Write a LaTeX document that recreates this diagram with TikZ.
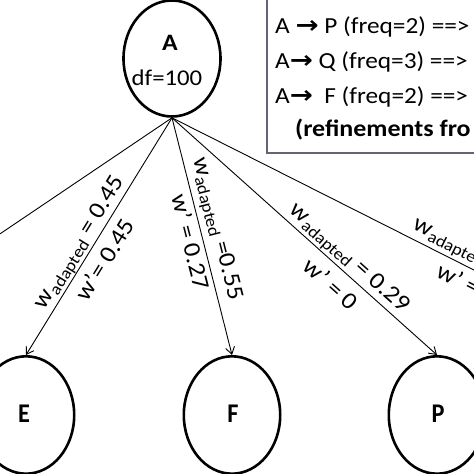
\documentclass[tikz,border=0pt]{standalone}
\usepackage{fontspec}
\setmainfont{Carlito}[FakeStretch=1.1]
\newfontfamily\plainfont{Carlito}
\newfontfamily\arrowfont{DejaVu Sans}
\usetikzlibrary{shapes.geometric,arrows.meta}
\definecolor{boxgray}{RGB}{100,100,115}
\newcommand{\rarrow}{\scalebox{1.2}[1.05]{\arrowfont\bfseries →}}
\begin{document}
\begin{tikzpicture}[x=1pt,y=-1pt,
  bubble/.style={ellipse,draw,line width=2.6pt,inner sep=0pt},
  small/.style={bubble,minimum width=96.4pt,minimum height=117.4pt},
  edge/.style={line width=0.9pt,-{Straight Barb[length=7pt,width=9pt]}},
  lbl/.style={sloped,font=\fontsize{23.8}{26}\selectfont,inner xsep=0pt},
  boxtext/.style={anchor=base west,font=\fontsize{23}{26}\selectfont,inner sep=0pt},
  leaf/.style={anchor=base,font=\fontsize{27}{30}\plainfont\bfseries,inner sep=0pt},
]
\useasboundingbox (0,0) rectangle (474,474);
\clip (0,0) rectangle (474,474);

% top node
\node[bubble,minimum width=97pt,minimum height=116pt] (A) at (172,58.5) {};
\node[anchor=base,font=\fontsize{23.5}{26}\selectfont\bfseries,inner sep=0pt] (Aname) at (170,50.5) {A};
\node[anchor=base,font=\fontsize{22.5}{26}\selectfont,inner sep=0pt] (Adf) at (167,85.5) {df=100};

% bottom nodes
\node[small] (E) at (26,415) {};
\node[small] (F) at (232,415) {};
\node[small] (P) at (437,415) {};
\node[leaf] (Ename) at (24,422) {\scalebox{0.9}[1]{E}};
\node[leaf] (Fname) at (233,422) {\scalebox{0.9}[1]{F}};
\node[leaf] (Pname) at (438,422) {\scalebox{0.9}[1]{P}};

% off-picture ends
\coordinate (D) at (-179.5,355);
\coordinate (Q) at (642.5,355);

\draw[edge] (A.south) -- (D);
\draw[edge] (A.south) --
  node[lbl,pos=0.555,above,inner ysep=0.5pt] {w\textsubscript{adapted} = 0.45}
  node[lbl,pos=0.56,below,inner ysep=8pt] {w'= 0.45} (E.north);
\draw[edge] (A.south) --
  node[lbl,pos=0.485,above,inner ysep=4pt] {w\textsubscript{adapted} =0.55}
  node[lbl,pos=0.51,below,inner ysep=3pt] {w' = 0.27} (F.north);
\draw[edge] (A.south) --
  node[lbl,pos=0.635,above,inner ysep=1pt] {w\textsubscript{adapted} = 0.29}
  node[lbl,pos=0.645,below,inner ysep=9pt] {w' = 0} (P.north);
\draw[edge] (A.south) --
  node[lbl,pos=0.50,anchor=south west,inner ysep=2pt] {w\textsubscript{adapted}}
  node[lbl,pos=0.58,anchor=north west,inner ysep=6pt] {w' =} (Q);

% legend box
\draw[draw=boxgray,line width=1.3pt] (267,-5) rectangle (490,153);
\node[boxtext] (r1) at (275,33) {A \rarrow{} P (freq=2) ==>};
\node[boxtext] (r2) at (275,68) {A\rarrow{} Q (freq=3) ==>};
\node[boxtext] (r3) at (275,103) {A\rarrow\ \ F (freq=2) ==>};
\node[boxtext,font=\fontsize{23.6}{26}\selectfont\bfseries] (r4) at (295,136) {(refinements fro};
\end{tikzpicture}
\end{document}
